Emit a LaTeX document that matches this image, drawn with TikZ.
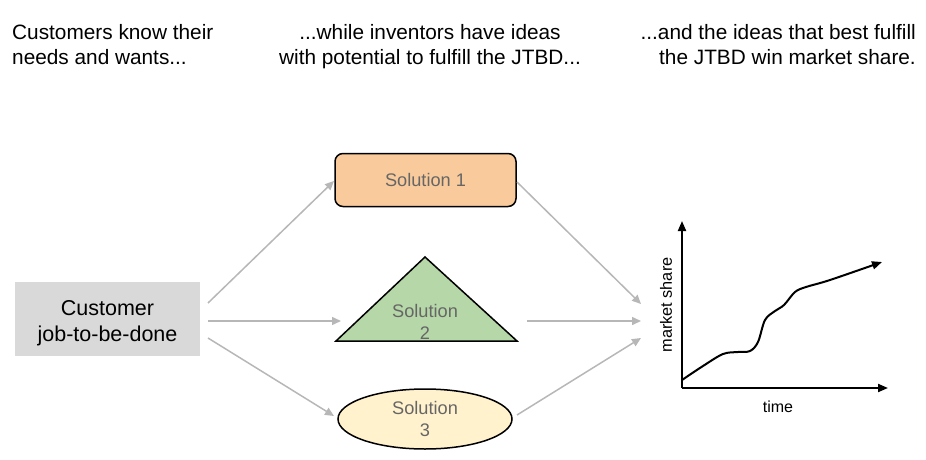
\documentclass[tikz,border=0pt]{standalone}
\usepackage{fontspec}
\setmainfont{Liberation Sans}
\usetikzlibrary{arrows.meta,shapes.geometric}
\definecolor{arrgray}{HTML}{B7B7B7}
\definecolor{custgray}{HTML}{D9D9D9}
\definecolor{orangefill}{HTML}{F9CB9C}
\definecolor{greenfill}{HTML}{B6D7A8}
\definecolor{yellowfill}{HTML}{FFF2CC}
\definecolor{soltext}{HTML}{666666}
\begin{document}
\begin{tikzpicture}[x=1pt,y=-1pt,
  garrow/.style={draw=arrgray, line width=1.5pt, -{Triangle[length=9pt,width=8pt]}},
  barrow/.style={draw=black, line width=2pt, -{Triangle[length=10pt,width=8pt]}},
  titletext/.style={inner sep=0pt, font=\fontsize{20.8}{25.5}\selectfont},
  soltxt/.style={text=soltext, font=\fontsize{18.2}{21.5}\selectfont, align=center},
  solshape/.style={draw=black, line width=1.5pt}
]
\useasboundingbox (0,0) rectangle (926,460);

% titles
\node[titletext, anchor=north west, align=left] (t1) at (12,24) {Customers know their\\needs and wants...};
\node[titletext, anchor=north, align=center] (t2) at (430,24) {...while inventors have ideas\\with potential to fulfill the JTBD...};
\node[titletext, anchor=north east, align=right] (t3) at (916,24) {...and the ideas that best fulfill\\the JTBD win market share.};

% customer
\node[fill=custgray, minimum width=185pt, minimum height=74pt] (cust) at (107.5,319) {};
\node[align=center, font=\fontsize{21.5}{26}\selectfont] (custtext) at (107.5,323) {Customer\\job-to-be-done};

% solutions
\node[solshape, fill=orangefill, rounded corners=8pt, minimum width=181pt, minimum height=53pt, soltxt] (sol1) at (425.5,180) {Solution 1};
\draw[solshape, fill=greenfill, line join=miter] (425,257) -- (517,341) -- (336,341) -- cycle;
\node[soltxt] (sol2) at (425,322) {Solution\\2};
\node[solshape, ellipse, fill=yellowfill, minimum width=174pt, minimum height=60pt, inner sep=0pt, soltxt] (sol3) at (425,419) {Solution\\3};

% connector endpoints
\coordinate (c1) at (208,303);
\coordinate (c2) at (208,321);
\coordinate (c3) at (208,338);
\coordinate (i1) at (334,181);
\coordinate (i2) at (341,321);
\coordinate (i3) at (334,416);
\coordinate (o1) at (517,182);
\coordinate (o2) at (527,321);
\coordinate (o3) at (517,415);
\coordinate (m1) at (641,304);
\coordinate (m2) at (641,321);
\coordinate (m3) at (641,338);

\draw[garrow] (c1) -- (i1);
\draw[garrow] (c2) -- (i2);
\draw[garrow] (c3) -- (i3);
\draw[garrow] (o1) -- (m1);
\draw[garrow] (o2) -- (m2);
\draw[garrow] (o3) -- (m3);

% chart
\coordinate (origin) at (682,388);
\coordinate (ytop) at (682,221);
\coordinate (xend) at (888,388);
\draw[barrow] (origin) -- (ytop);
\draw[barrow] (origin) -- (xend);
\draw[barrow, line cap=round, line join=round] plot[smooth, tension=0.55] coordinates {(682,380) (703,366) (723,354) (738,352) (750,351) (758,342) (765,320) (775,311) (784,305) (795,292) (806,287) (830,280) (882,262)};
\node[rotate=90, font=\fontsize{16.3}{18}\selectfont] (ylab) at (666,305) {market share};
\node[font=\fontsize{16}{18}\selectfont] (xlab) at (778,407) {time};
\end{tikzpicture}
\end{document}
